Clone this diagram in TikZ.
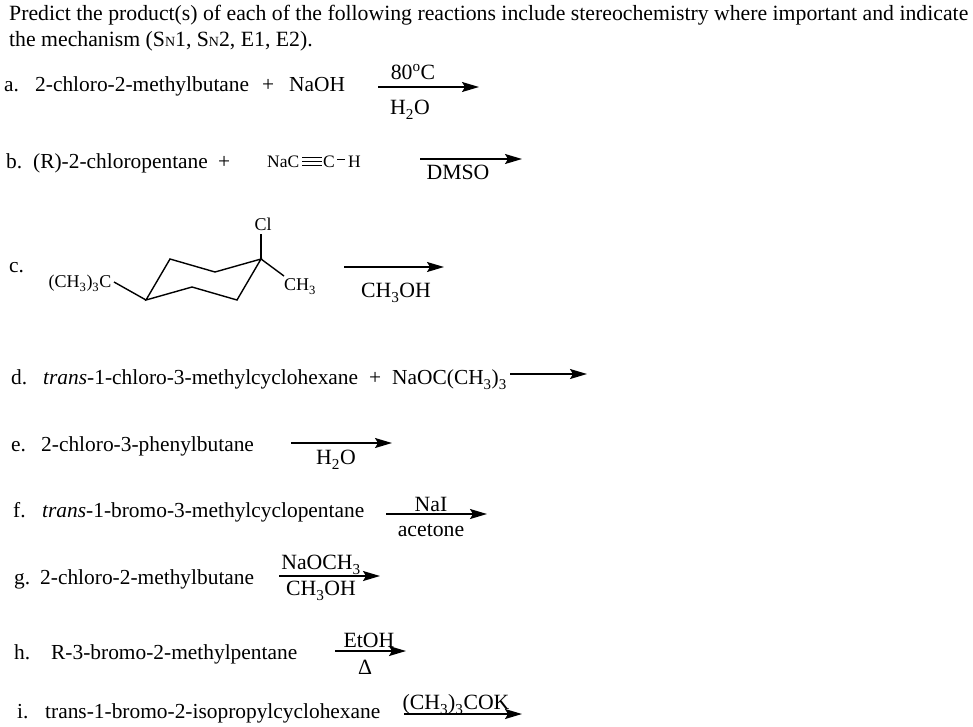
\documentclass[tikz,border=0pt]{standalone}
\usepackage{fontspec}
\setmainfont{Liberation Serif}
\usetikzlibrary{arrows.meta}
\newcommand{\tsub}[1]{\raisebox{-0.2ex}{\textsubscript{#1}}}

\begin{document}
\begin{tikzpicture}[x=1pt,y=-1pt,
  head/.style = {anchor=base west, inner sep=0pt, font=\fontsize{21.75}{26}\selectfont},
  main/.style = {anchor=base west, inner sep=0pt, font=\fontsize{21.4}{26}\selectfont},
  reagent/.style = {anchor=base, inner sep=0pt, font=\fontsize{21.75}{26}\selectfont},
  label/.style = {inner sep=0pt, font=\fontsize{18}{22}\selectfont},
  arr/.style = {draw, line width=1.5pt, -{Stealth[length=17pt,width=10pt,inset=3pt]}},
  bond/.style = {draw, line width=1.4pt}]
\useasboundingbox (0,0) rectangle (973,726);
% heading
\node[head] (head1) at (9,20) {Predict the product(s) of each of the following reactions include stereochemistry where important and indicate};
\node[head] (head2) at (9,46) {the mechanism (S{\fontsize{14}{16}\selectfont N}1, S{\fontsize{14}{16}\selectfont N}2, E1, E2).};
% a
\node[main] (a) at (4,91) {a.};
\node[main] (a1) at (35,91) {2-chloro-2-methylbutane};
\node[main] (a2) at (262,91) {+};
\node[main] (a3) at (289,91) {NaOH};
\node[reagent] (a4) at (413,79) {80\textsuperscript{o}C};
\node[reagent] (a5) at (410,114) {H\tsub{2}O};
\coordinate (a6) at (378,87);
\coordinate (a7) at (479,87);
\draw[arr] (a6) -- (a7);
% b
\node[main] (b) at (6,168) {b.};
\node[main] (b1) at (33,168) {(R)-2-chloropentane};
\node[main] (b2) at (218,168) {+};
\node[main, font=\fontsize{17.5}{21}\selectfont] (b3) at (267,167) {NaC};
\node[main, font=\fontsize{17.5}{21}\selectfont] (b4) at (323,167) {C};
\node[main, font=\fontsize{17.5}{21}\selectfont] (b5) at (348,167) {H};
\foreach \y in {157,161,165} {
  \coordinate (t1) at (302,\y);
  \coordinate (t2) at (322,\y);
  \draw[line width=1pt] (t1) -- (t2);
}
\coordinate (b6) at (337,159);
\coordinate (b7) at (345,159);
\draw[line width=1pt] (b6) -- (b7);
\node[reagent] (b8) at (458,179) {DMSO};
\coordinate (b9) at (420,159);
\coordinate (b10) at (522,159);
\draw[arr] (b9) -- (b10);
% c
\node[main] (c) at (9,272) {c.};
\node[label, anchor=base] (cl) at (263,230) {Cl};
\node[label, anchor=base] (me) at (300,290) {CH\tsub{3}};
\node[label, anchor=base] (tbu) at (80,287) {(CH\tsub{3})\tsub{3}C};
\coordinate (r1) at (261,259);
\coordinate (r2) at (215,272);
\coordinate (r3) at (170,259);
\coordinate (r4) at (146,300);
\coordinate (r5) at (192,287);
\coordinate (r6) at (237,300);
\coordinate (r7) at (261,234);
\coordinate (r8) at (284,276);
\coordinate (r9) at (114,282);
\draw[bond] (r1) -- (r2) -- (r3) -- (r4) -- (r5) -- (r6) -- cycle;
\draw[bond] (r1) -- (r7);
\draw[bond] (r1) -- (r8);
\draw[bond] (r4) -- (r9);
\coordinate (c1) at (344,267);
\coordinate (c2) at (444,267);
\draw[arr] (c1) -- (c2);
\node[reagent] (c3) at (396,297) {CH\tsub{3}OH};
% d
\node[main] (d) at (11,384) {d.};
\node[main] (d1) at (43,384) {\textit{trans}-1-chloro-3-methylcyclohexane};
\node[main] (d2) at (369,384) {+};
\node[main] (d3) at (392,384) {NaOC(CH\tsub{3})\tsub{3}};
\coordinate (d4) at (510,374);
\coordinate (d5) at (587,374);
\draw[arr] (d4) -- (d5);
% e
\node[main] (e) at (11,451) {e.};
\node[main] (e1) at (41,451) {2-chloro-3-phenylbutane};
\coordinate (e2) at (291,443);
\coordinate (e3) at (392,443);
\draw[arr] (e2) -- (e3);
\node[reagent] (e4) at (336,464) {H\tsub{2}O};
% f
\node[main] (f) at (13,517) {f.};
\node[main] (f1) at (42,517) {\textit{trans}-1-bromo-3-methylcyclopentane};
\coordinate (f2) at (386,514);
\coordinate (f3) at (487,514);
\draw[arr] (f2) -- (f3);
\node[reagent] (f4) at (431,511) {NaI};
\node[reagent] (f5) at (431,536) {acetone};
% g
\node[main] (g) at (14,584) {g.};
\node[main] (g1) at (40,584) {2-chloro-2-methylbutane};
\coordinate (g2) at (279,576);
\coordinate (g3) at (380,576);
\draw[arr] (g2) -- (g3);
\node[reagent] (g4) at (321,569) {NaOCH\tsub{3}};
\node[reagent] (g5) at (321,595) {CH\tsub{3}OH};
% h
\node[main] (h) at (14,659) {h.};
\node[main] (h1) at (51,659) {R-3-bromo-2-methylpentane};
\coordinate (h2) at (335,651);
\coordinate (h3) at (406,651);
\draw[arr] (h2) -- (h3);
\node[reagent] (h4) at (369,647) {EtOH};
\node[reagent] (h5) at (365,674) {Δ};
% i
\node[main] (i) at (17,718) {i.};
\node[main] (i1) at (45,718) {trans-1-bromo-2-isopropylcyclohexane};
\coordinate (i2) at (404,714);
\coordinate (i3) at (522,714);
\draw[arr] (i2) -- (i3);
\node[reagent] (i4) at (456,709) {(CH\tsub{3})\tsub{3}COK};
\end{tikzpicture}
\end{document}
